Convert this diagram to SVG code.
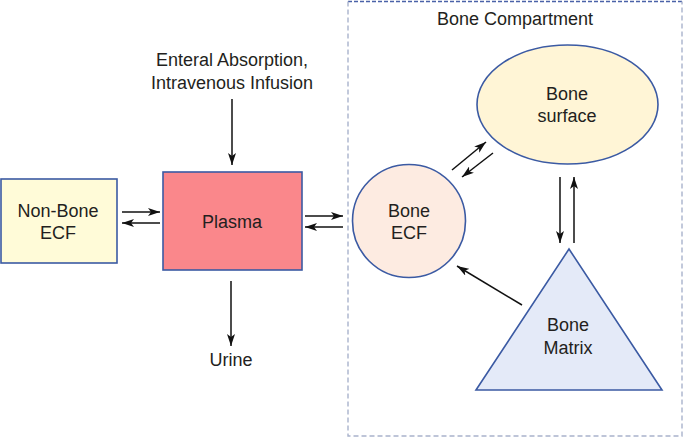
<svg xmlns="http://www.w3.org/2000/svg" width="685" height="438" viewBox="0 0 685 438">
<defs>
<marker id="ah" viewBox="0 0 12 8" refX="12" refY="4" markerWidth="12" markerHeight="8" markerUnits="userSpaceOnUse" orient="auto">
<path d="M0,0 L12,4 L0,8 L3,4 Z" fill="#111"/>
</marker>
<style>
text{font-family:"Liberation Sans",Arial,sans-serif;font-size:18px;fill:#231f20;text-anchor:middle}
.node{stroke:#3b5aa3;stroke-width:1.6}
.arr{stroke:#111;stroke-width:1.5;fill:none;marker-end:url(#ah)}
</style>
</defs>
<rect width="685" height="438" fill="#fff"/>
<g id="bone-compartment">
<line x1="348" y1="1.5" x2="682" y2="1.5" stroke="#4a62a8" stroke-width="1.5" stroke-dasharray="4,2"/>
<path d="M348,1.5 V436 H682 V1.5" fill="none" stroke="#a9b3cc" stroke-width="1.4" stroke-dasharray="5,3"/>
<text x="515" y="25">Bone Compartment</text>
</g>
<g id="non-bone-ecf">
<rect class="node" x="1" y="179" width="116" height="84" fill="#fffbd8"/>
<text x="58" y="217">Non-Bone</text>
<text x="58" y="239">ECF</text>
</g>
<g id="plasma">
<rect class="node" x="163" y="172" width="139" height="98" fill="#fa878b"/>
<text x="232" y="228">Plasma</text>
</g>
<g id="input-label">
<text x="232" y="66">Enteral Absorption,</text>
<text x="232" y="89">Intravenous Infusion</text>
</g>
<g id="urine">
<text x="231" y="366">Urine</text>
</g>
<g id="bone-ecf">
<circle class="node" cx="409" cy="221" r="56.5" fill="#fdebe1"/>
<text x="409" y="217">Bone</text>
<text x="409" y="239">ECF</text>
</g>
<g id="bone-surface">
<ellipse class="node" cx="567.5" cy="104.5" rx="90.5" ry="59.5" fill="#fff5d6"/>
<text x="567" y="100">Bone</text>
<text x="567" y="122">surface</text>
</g>
<g id="bone-matrix">
<polygon class="node" points="569,249 662,390 476,390" fill="#e4eaf8" stroke-linejoin="miter"/>
<text x="568" y="331">Bone</text>
<text x="568" y="354">Matrix</text>
</g>
<g id="connectors">
<line class="arr" x1="232" y1="99" x2="232" y2="165"/>
<line class="arr" x1="231" y1="281" x2="231" y2="346"/>
<line class="arr" x1="122" y1="212" x2="160" y2="212"/>
<line class="arr" x1="160" y1="223" x2="122" y2="223"/>
<line class="arr" x1="305" y1="216" x2="343" y2="216"/>
<line class="arr" x1="343" y1="227" x2="305" y2="227"/>
<line class="arr" x1="452" y1="170" x2="486" y2="142"/>
<line class="arr" x1="493" y1="153" x2="462" y2="177"/>
<line class="arr" x1="560" y1="177" x2="560" y2="243"/>
<line class="arr" x1="574" y1="243" x2="574" y2="177"/>
<line class="arr" x1="522" y1="305" x2="457" y2="266"/>
</g>
</svg>
